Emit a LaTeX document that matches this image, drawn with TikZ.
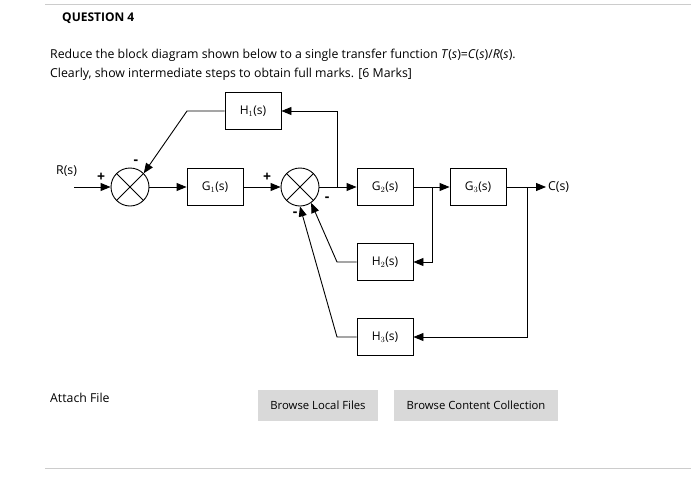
\documentclass[tikz,border=0pt]{standalone}
\usepackage{fontspec}
\setmainfont{Open Sans}
\usetikzlibrary{arrows.meta,calc}
\tikzset{
    block/.style={draw, line width=0.9pt, rectangle, minimum width=56pt, minimum height=37pt, inner sep=0pt, font=\fontsize{12}{14}\selectfont},
    sum/.style={draw, line width=0.9pt, circle, minimum size=38pt, inner sep=0pt,
        path picture={\draw[line width=0.9pt] (path picture bounding box.south west) -- (path picture bounding box.north east)
                            (path picture bounding box.north west) -- (path picture bounding box.south east);}},
    sig/.style={line width=0.9pt, -{Triangle[length=10pt,width=8pt]}},
    txt/.style={anchor=west, inner sep=0pt, font=\fontsize{12.3}{14}\selectfont},
    sgn/.style={inner sep=0pt, font=\fontsize{14}{14}\selectfont\bfseries},
    button/.style={fill=black!15, minimum width=120pt, minimum height=31pt, inner sep=0pt, font=\fontsize{11.3}{13}\selectfont},
    rule/.style={draw=black!20, line width=1pt},
}
\begin{document}
\begin{tikzpicture}[x=1pt, y=-1pt]
    \useasboundingbox (0,0) rectangle (691,477);
    % page chrome
    \draw[rule] (45,4) -- (691,4);
    \draw[rule] (45,468) -- (691,468);
    \node[txt, font=\fontsize{12}{14}\selectfont\bfseries] (q) at (62,18) {QUESTION 4};
    \node[txt] (l1) at (50,55) {Reduce the block diagram shown below to a single transfer function \textit{T}(\textit{s})=\textit{C}(\textit{s})/\textit{R}(\textit{s}).};
    \node[txt] (l2) at (50,74) {Clearly, show intermediate steps to obtain full marks. [6 Marks]};
    \node[txt] (att) at (50,398) {Attach File};
    \node[button] (b1) at (318,405) {Browse Local Files};
    \node[button, minimum width=164pt] (b2) at (476,405) {Browse Content Collection};

    % blocks
    \node[sum] (s1) at (130,187) {};
    \node[block] (G1) at (215,187) {G$_1$(s)};
    \node[sum] (s2) at (300,187) {};
    \node[block] (G2) at (385,187) {G$_2$(s)};
    \node[block] (G3) at (478,187) {G$_3$(s)};
    \node[block] (H1) at (253,111) {H$_1$(s)};
    \node[block] (H2) at (385,262) {H$_2$(s)};
    \node[block] (H3) at (385,337) {H$_3$(s)};

    % coordinates
    \coordinate (in) at (74,187);
    \coordinate (j1) at (337,187);
    \coordinate (j2) at (432,187);
    \coordinate (j3) at (527,187);
    \coordinate (out) at (546,187);
    \coordinate (h1w) at (187,111);
    \coordinate (h2w) at (337,262);
    \coordinate (h3w) at (337,337);

    % forward path
    \draw[sig] (in) -- (s1.west);
    \draw[sig] (s1.east) -- (G1.west);
    \draw[sig] (G1.east) -- (s2.west);
    \draw[sig] (s2.east) -- (G2.west);
    \draw[sig] (G2.east) -- (G3.west);
    \draw[sig] (G3.east) -- (out);

    % feedback paths
    \draw[sig] (j1) |- (H1.east);
    \draw[sig] (H1.west) -- (h1w) -- (s1.45);
    \draw[sig] (j2) |- (H2.east);
    \draw[sig] (H2.west) -- (h2w) -- (s2.-55);
    \draw[sig] (j3) |- (H3.east);
    \draw[sig] (H3.west) -- (h3w) -- (s2.-90);

    % labels
    \node[txt] (R) at (56,171) {R(s)};
    \node[txt] (C) at (548,187) {C(s)};
    \node[sgn] (p1) at (101,177) {+};
    \node[sgn] (m1) at (136,162) {-};
    \node[sgn] (p2) at (267,177) {+};
    \node[sgn] (m2) at (327,199) {-};
    \node[sgn] (m3) at (295,214) {-};
\end{tikzpicture}
\end{document}
